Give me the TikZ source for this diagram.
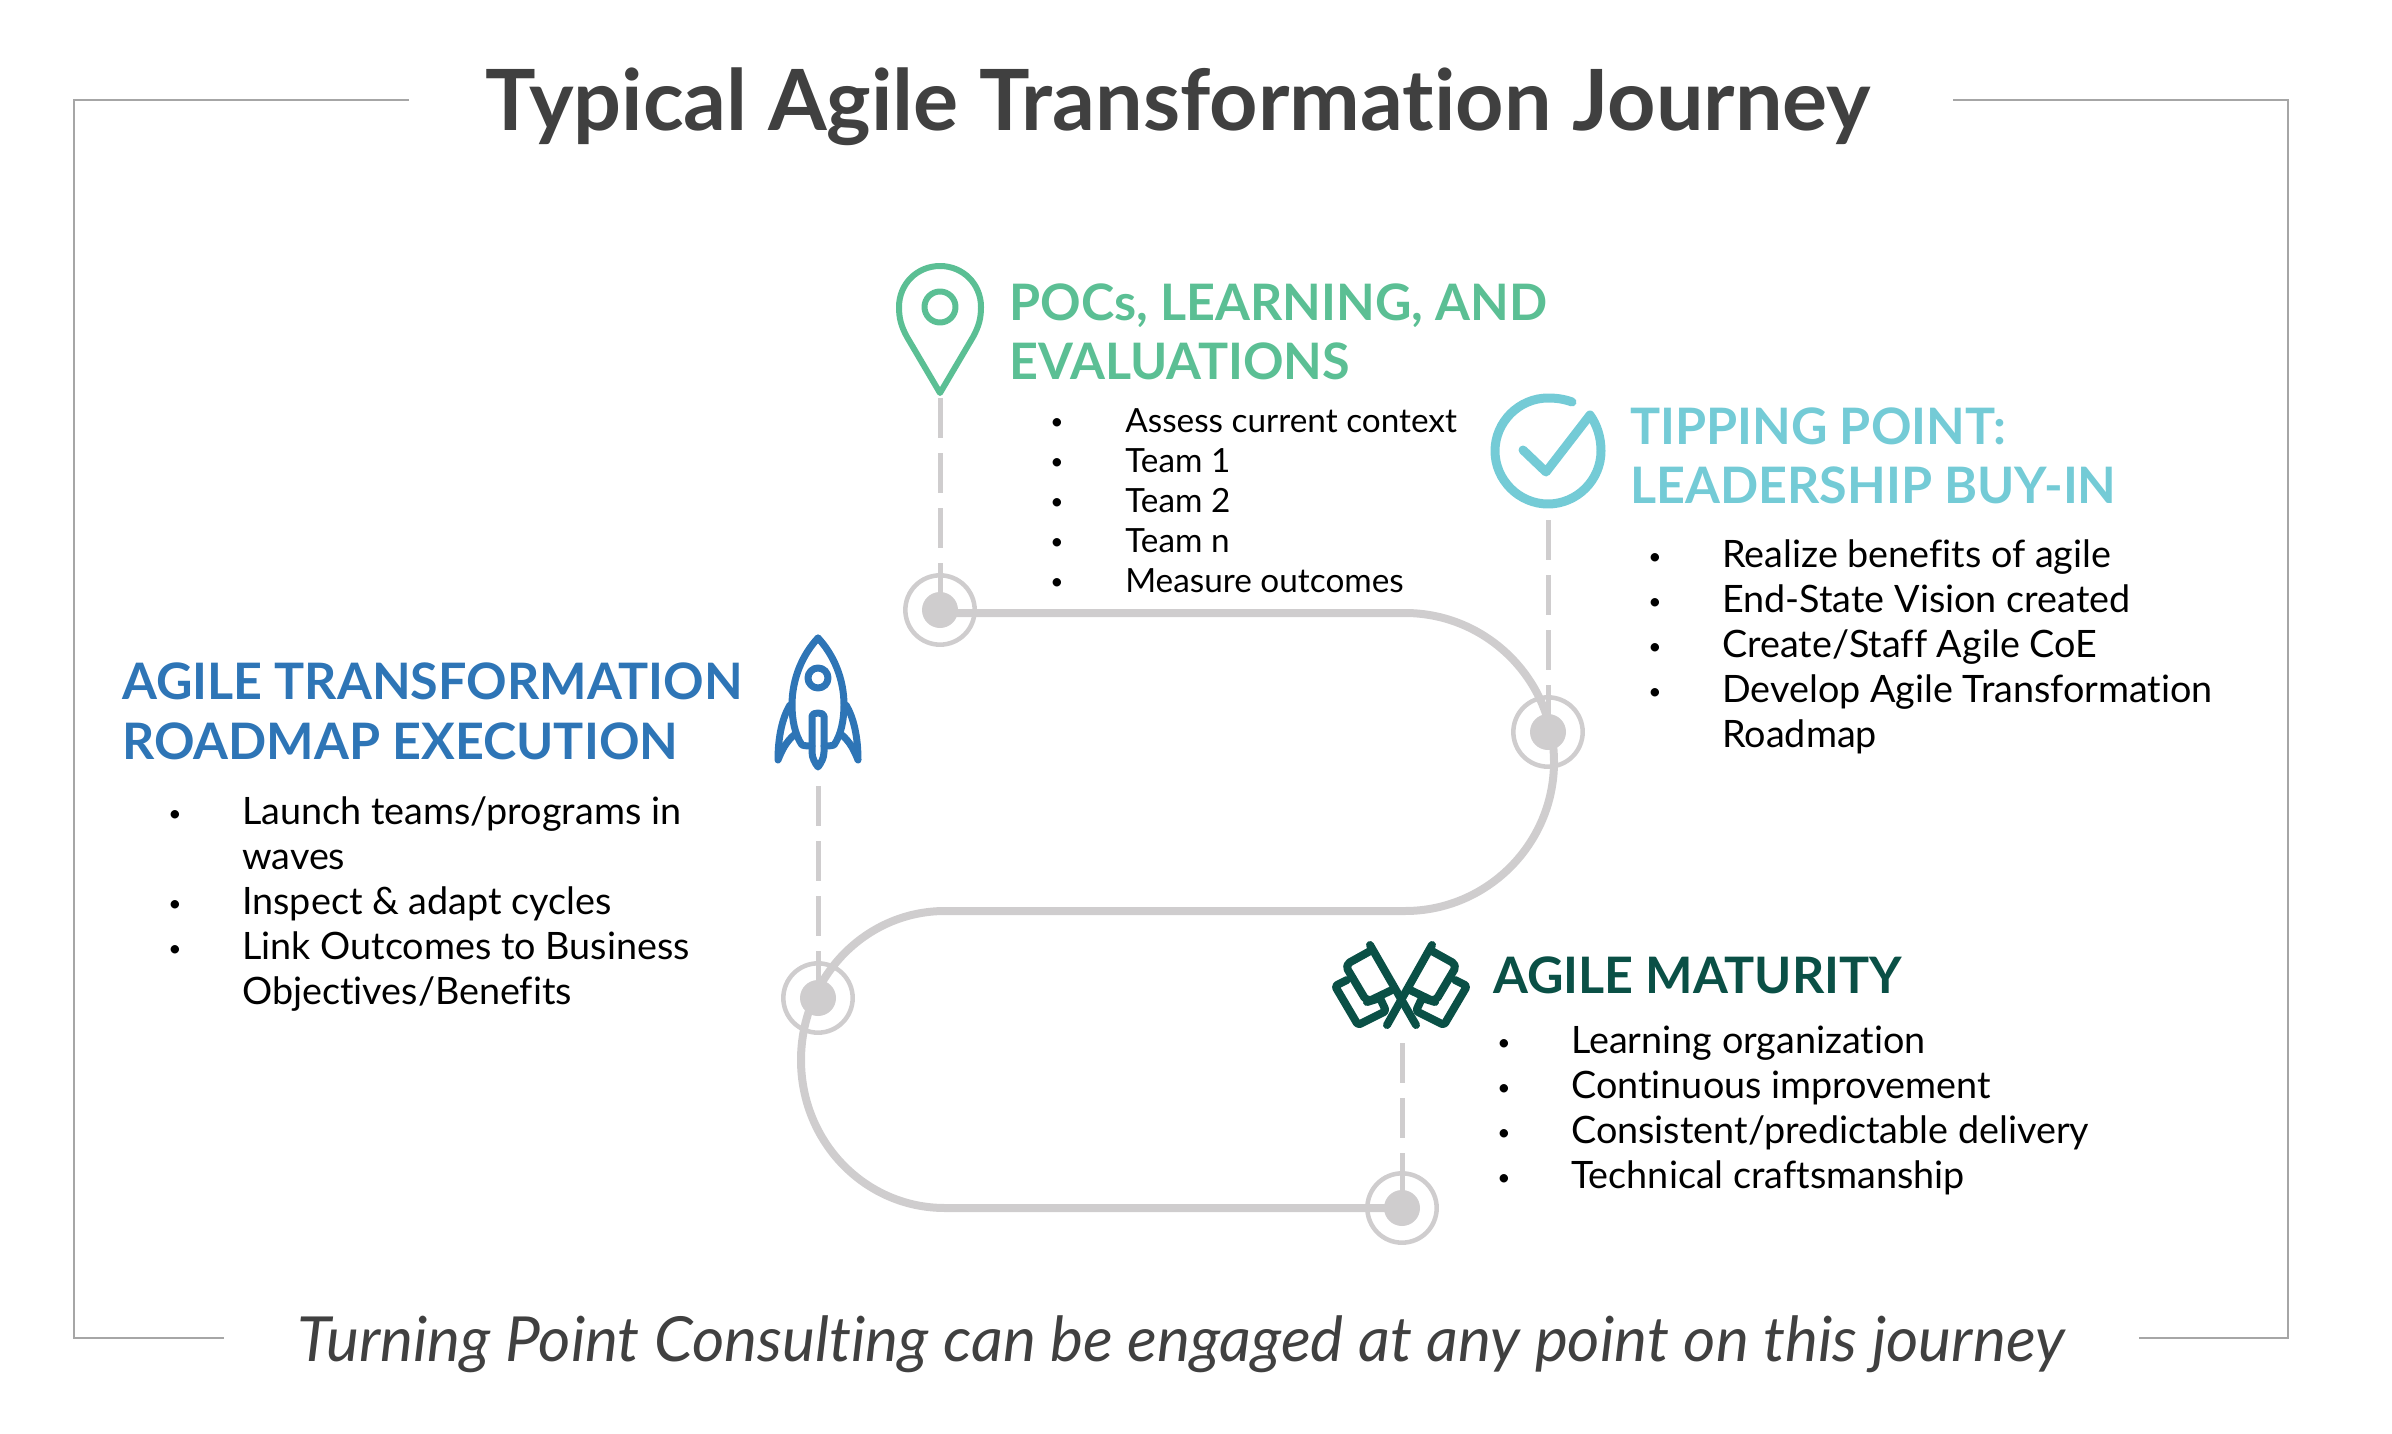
\documentclass[tikz,border=0pt]{standalone}
\usepackage{fontspec}
\setmainfont{Lato}[Ligatures=NoCommon]
\usepackage{array}
\definecolor{pathgrey}{RGB}{207,205,206}
\definecolor{framegrey}{RGB}{166,166,166}
\definecolor{titlegrey}{RGB}{64,64,64}
\definecolor{pocgreen}{RGB}{91,191,148}
\definecolor{tipteal}{RGB}{116,203,214}
\definecolor{roadblue}{RGB}{46,117,182}
\definecolor{maturegreen}{RGB}{10,80,70}
\newcommand{\listdot}{\raisebox{1.8pt}{\fontsize{17}{17}\selectfont\textbullet}}
\tikzset{
  stopdot/.style={circle,fill=pathgrey,inner sep=0pt,minimum size=27pt},
  stopring/.style={circle,draw=pathgrey,line width=3.4pt,inner sep=0pt,minimum size=52pt},
  stopdash/.style={draw=pathgrey,line width=3.75pt,dash pattern={on 30pt off 11.25pt}},
  headtext/.style={anchor=north west,inner sep=0pt,align=left,font=\fontsize{37.7}{44.8}\selectfont\bfseries},
  smalllist/.style={anchor=base west,inner sep=0pt,font=\fontsize{25}{30}\selectfont},
  biglist/.style={anchor=base west,inner sep=0pt,font=\fontsize{28.3}{33.75}\selectfont},
  iconline/.style={line width=#1,line cap=round,line join=round}
}
\begin{document}
\begin{tikzpicture}[x=0.75pt,y=0.75pt,yscale=-1,xscale=1]
\useasboundingbox (0,0) rectangle (2392,1434);

%Frame
\draw [framegrey,line width=0.9pt] (409,100) -- (74,100) -- (74,1338) -- (224,1338) ;
\draw [framegrey,line width=0.9pt] (1953,100) -- (2288,100) -- (2288,1338) -- (2139,1338) ;

% Text Node
\node (title) at (1178,131) [anchor=base,inner sep=0pt,text=titlegrey,font=\fontsize{63.35}{70}\selectfont\bfseries] {Typical Agile Transformation Journey};
% Text Node
\node (engaged) at (1181,1361) [anchor=base,inner sep=0pt,text=titlegrey,font=\fontsize{46.65}{54}\selectfont\itshape] {Turning Point Consulting can be engaged at any point on this journey};

%Stops
\node (dotPoc) at (940,610) [stopdot] {};
\node (ringPoc) at (940,610) [stopring] {};
\node (dotTip) at (1548,732) [stopdot] {};
\node (ringTip) at (1548,732) [stopring] {};
\node (dotRoad) at (818,998) [stopdot] {};
\node (ringRoad) at (818,998) [stopring] {};
\node (dotMature) at (1402,1208) [stopdot] {};
\node (ringMature) at (1402,1208) [stopring] {};

%Road
\draw [pathgrey,line width=6pt] (dotPoc.center) ++(0,3) -- (1405,613) .. controls (1487,613) and (1554,680) .. (1554,762) .. controls (1554,844) and (1487,911) .. (1405,911) -- (945,911) .. controls (865,911) and (801,978) .. (801,1060) .. controls (801,1142) and (865,1208) .. (945,1208) -- (dotMature.center) ;

%Dashed leaders
\coordinate (pocFoot) at (940,398);
\coordinate (tipFoot) at (1548,520);
\coordinate (roadFoot) at (818,786);
\coordinate (matureFoot) at (1402,1043);
\draw [stopdash] (pocFoot) -- (dotPoc.center) ;
\draw [stopdash] (tipFoot) -- (dotTip.center) ;
\draw [stopdash] (roadFoot) -- (dotRoad.center) ;
\draw [stopdash] (matureFoot) -- (dotMature.center) ;

%Pin
\draw [pocgreen,iconline=4.5pt] (940,393) -- (907,337) .. controls (901,326) and (899,318) .. (899,307) .. controls (899,284) and (917,266) .. (940,266) .. controls (963,266) and (981,284) .. (981,307) .. controls (981,318) and (979,326) .. (973,337) -- cycle ;
\draw [pocgreen,iconline=4.5pt] (940,307) circle [radius=15.5] ;

%Check
\draw [tipteal,iconline=6.75pt] (1572,402) .. controls (1564,399) and (1556,398) .. (1548,398) .. controls (1519,398) and (1495,422) .. (1495,451) .. controls (1495,480) and (1519,504) .. (1548,504) .. controls (1577,504) and (1601,480) .. (1601,451) .. controls (1601,437) and (1597,425) .. (1590,415) -- (1546,472) -- (1523,450) ;

%Rocket
\draw [roadblue,iconline=5.25pt] (818,638) .. controls (803,654) and (792,678) .. (792,705) .. controls (792,720) and (795,735) .. (802,745) .. controls (805,746) and (809,746) .. (812,746) ;
\draw [roadblue,iconline=5.25pt] (818,638) .. controls (833,654) and (844,678) .. (844,705) .. controls (844,720) and (841,735) .. (834,745) .. controls (831,746) and (827,746) .. (824,746) ;
\draw [roadblue,iconline=5.25pt] (818,678) circle [radius=10] ;
\draw [roadblue,iconline=5.25pt] (812,716) .. controls (812,712) and (824,712) .. (824,716) -- (824,752) .. controls (824,758) and (821,763) .. (818,767) .. controls (815,763) and (812,758) .. (812,752) -- cycle ;
\draw [roadblue,iconline=5.25pt] (790,705) .. controls (782,718) and (778,738) .. (778,760) .. controls (782,750) and (786,742) .. (794,735) ;
\draw [roadblue,iconline=5.25pt] (846,705) .. controls (854,718) and (858,738) .. (858,760) .. controls (854,750) and (850,742) .. (842,735) ;

%Flags
\draw [maturegreen,iconline=6pt] (1370,945) -- (1416,1025) ;
\draw [maturegreen,iconline=6pt] (1432,945) -- (1387,1025) ;
\draw [maturegreen,iconline=6pt,rounded corners=4pt] (1372,950) -- (1345,965) -- (1367,1002) -- (1392,990) ;
\draw [maturegreen,iconline=6pt,rounded corners=4pt] (1430,950) -- (1457,965) -- (1435,1002) -- (1410,990) ;
\draw [maturegreen,iconline=6pt,rounded corners=2pt] (1347,980) -- (1335,986) -- (1358,1025) -- (1386,1011) -- (1380,998) -- (1367,1002) ;
\draw [maturegreen,iconline=6pt,rounded corners=2pt] (1455,980) -- (1467,986) -- (1444,1025) -- (1416,1011) -- (1422,998) -- (1435,1002) ;

%Headings
\node (headPoc) at (1009,283) [headtext,text=pocgreen] {POCs, LEARNING, AND\\EVALUATIONS};
\node (headTip) at (1630,407) [headtext,text=tipteal] {TIPPING POINT:\\LEADERSHIP BUY-IN};
\node (headRoad) at (122,662.5) [headtext,text=roadblue] {AGILE TRANSFORMATION\\ROADMAP EXECUTION};
\node (headMature) at (1493,956) [headtext,text=maturegreen] {AGILE MATURITY};

%Lists
\node (listPoc) at (1050,432) [smalllist] {\begin{tabular}[t]{@{}p{56.25pt}@{}l@{}}
\listdot & Assess current context\\
\listdot & Team 1\\
\listdot & Team 2\\
\listdot & Team n\\
\listdot & Measure outcomes
\end{tabular}};
\node (listTip) at (1648,567) [biglist] {\begin{tabular}[t]{@{}p{55.5pt}@{}l@{}}
\listdot & Realize benefits of agile\\
\listdot & End-State Vision created\\
\listdot & Create/Staff Agile CoE\\
\listdot & Develop Agile Transformation\\
 & Roadmap
\end{tabular}};
\node (listRoad) at (168,824) [biglist] {\begin{tabular}[t]{@{}p{55.5pt}@{}l@{}}
\listdot & Launch teams/programs in\\
 & waves\\
\listdot & Inspect \& adapt cycles\\
\listdot & Link Outcomes to Business\\
 & Objectives/Benefits
\end{tabular}};
\node (listMature) at (1497,1053) [biglist] {\begin{tabular}[t]{@{}p{55.5pt}@{}l@{}}
\listdot & Learning organization\\
\listdot & Continuous improvement\\
\listdot & Consistent/predictable delivery\\
\listdot & Technical craftsmanship
\end{tabular}};

\end{tikzpicture}
\end{document}
